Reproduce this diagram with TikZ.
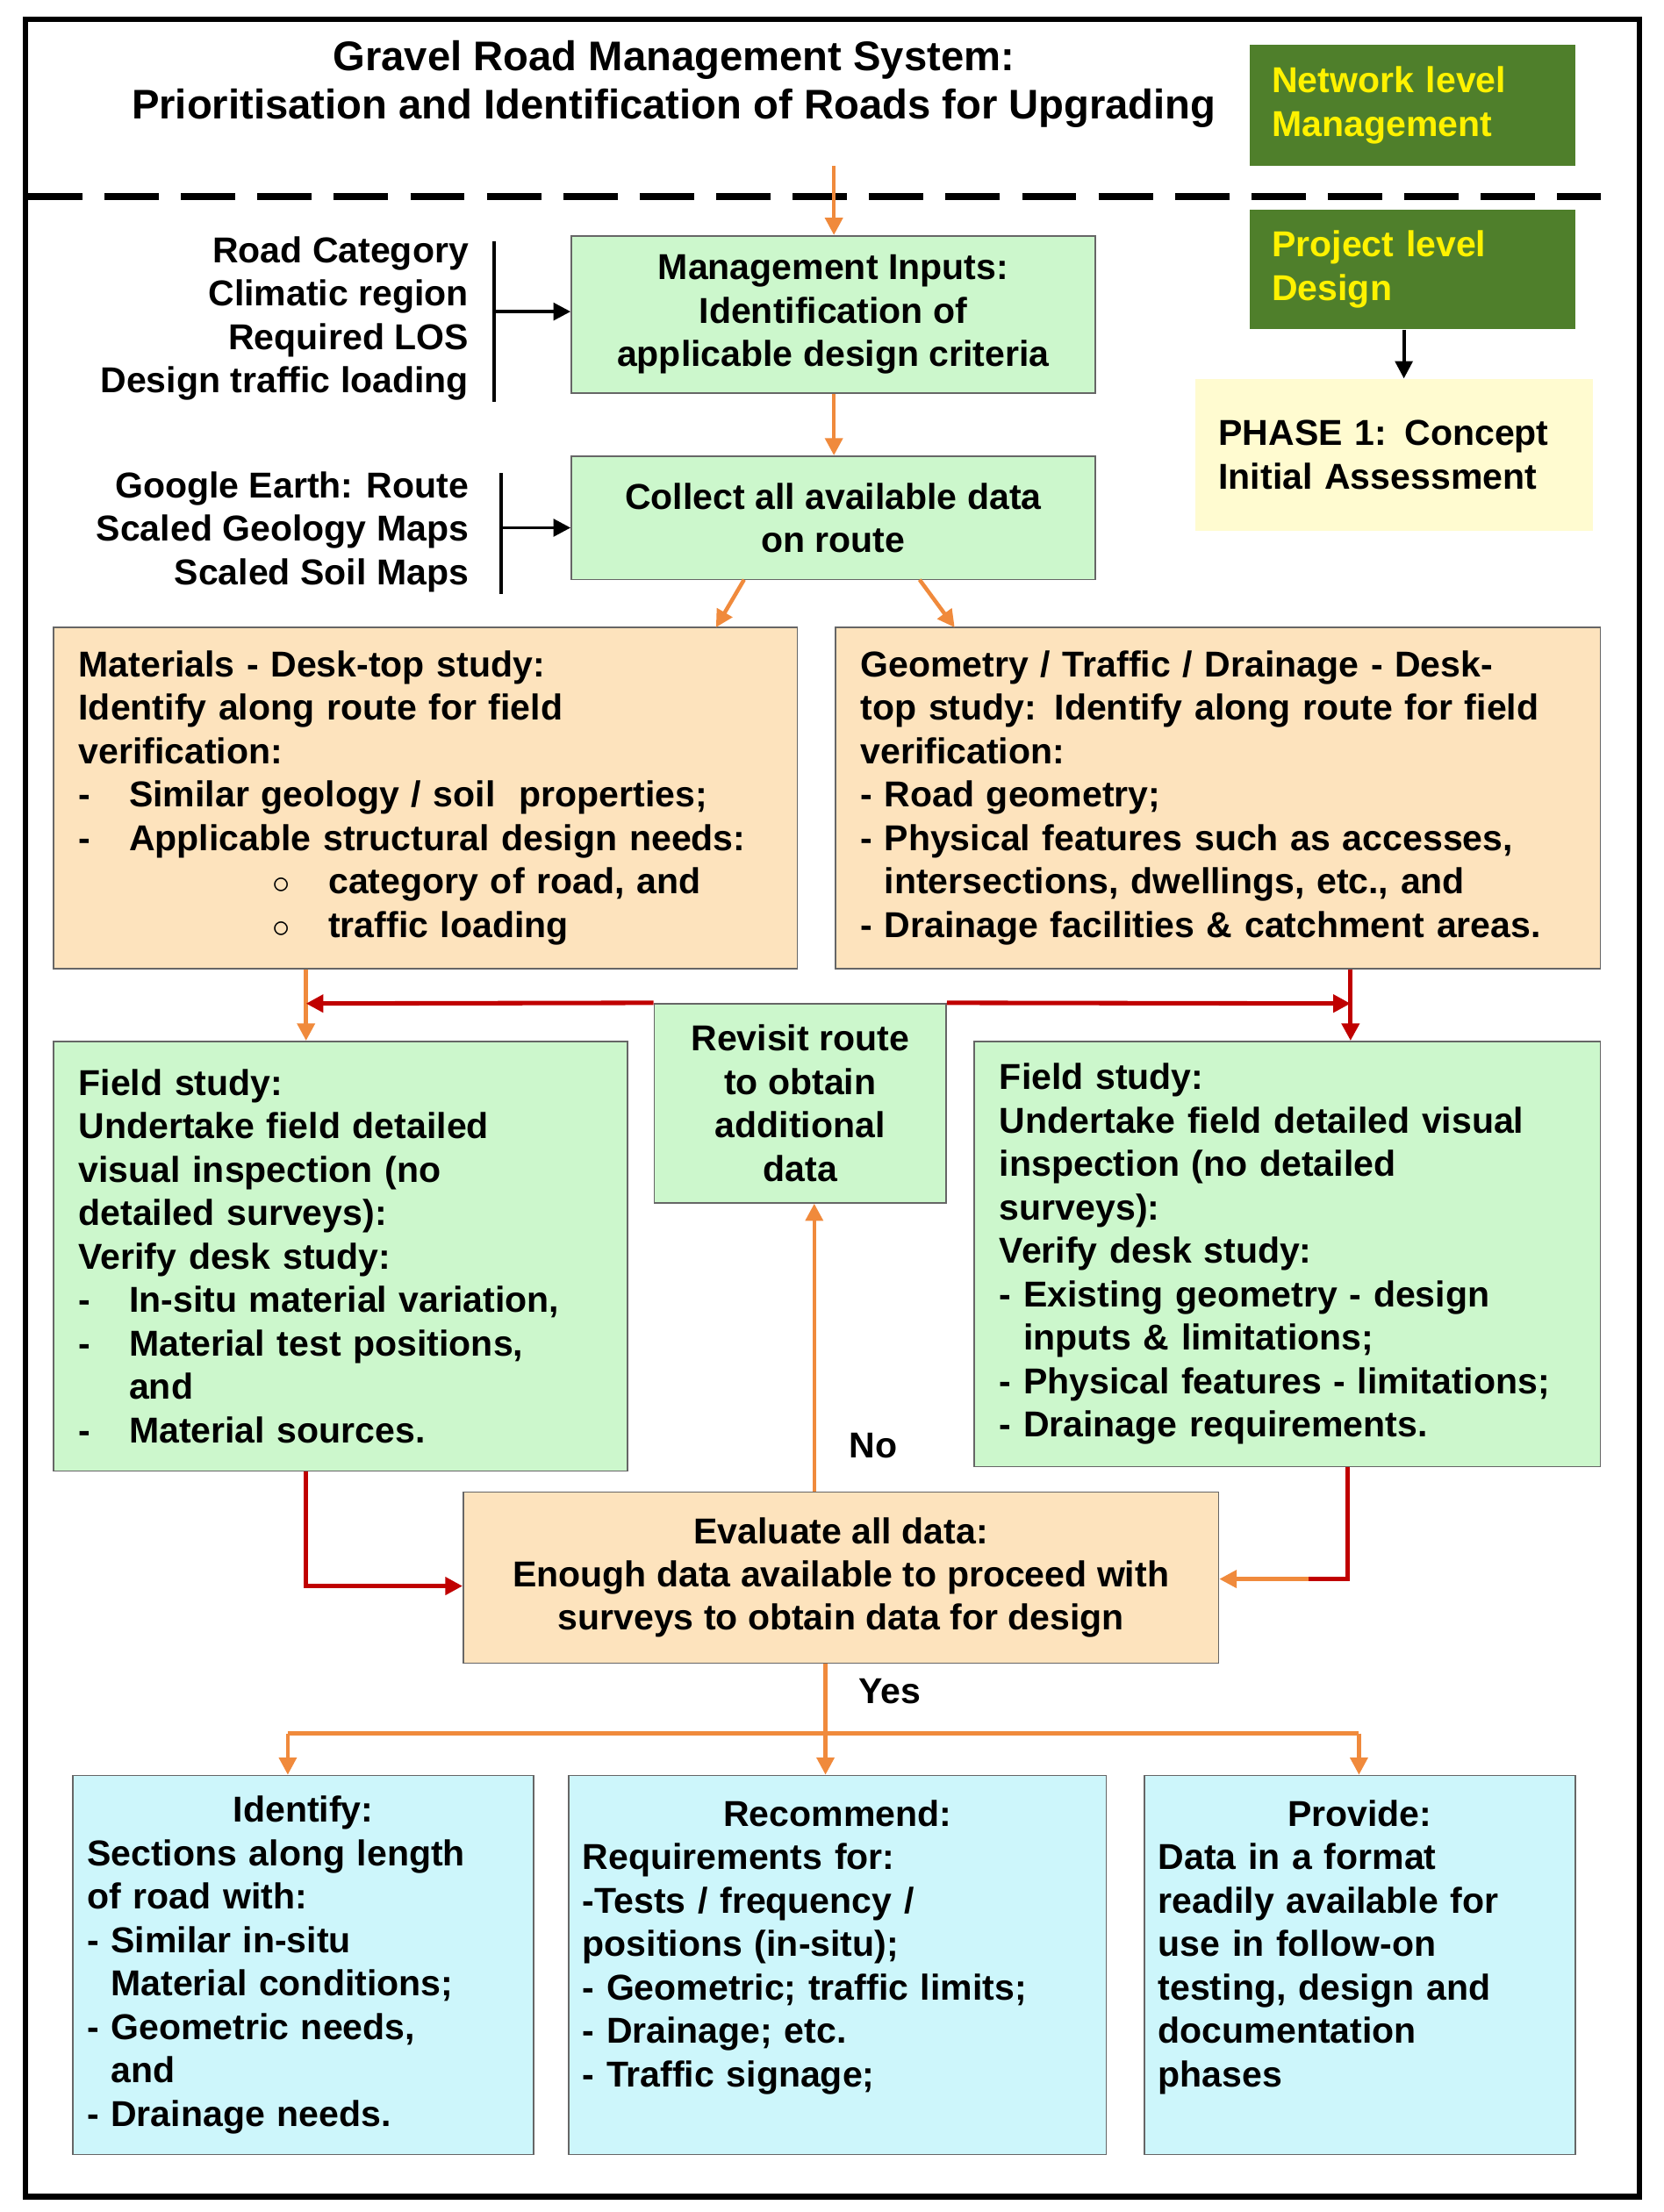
\documentclass[tikz,border=0pt]{standalone}
\usepackage{fontspec}
\setmainfont{Liberation Sans}
\usetikzlibrary{arrows.meta}
\definecolor{gbox}{HTML}{CCF7CC}
\definecolor{pbox}{HTML}{FDE3BD}
\definecolor{cbox}{HTML}{CDF6FB}
\definecolor{dgreen}{HTML}{4F7F2B}
\definecolor{lyel}{HTML}{FFFBD0}
\definecolor{orng}{HTML}{F08A3C}
\definecolor{dred}{HTML}{C00000}
\newcommand{\dd}{\makebox[0.72cm][l]{-}}
\newcommand{\ds}{\makebox[0.34cm][l]{-}}
\begin{document}
\begin{tikzpicture}[x=0.02cm,y=-0.02cm,
 every node/.style={font=\bfseries\fontsize{14.6}{17.6}\selectfont},
 bx/.style={draw=black!60,line width=0.6pt,inner xsep=18*0.02cm,inner ysep=0pt},
 oa/.style={draw=orng,line width=1.6pt,-{Triangle[length=7pt,width=7pt]}},
 ra/.style={draw=dred,line width=1.8pt,-{Triangle[length=7pt,width=7pt]}},
 ba/.style={draw=black,line width=1.4pt,-{Triangle[length=7pt,width=7pt]}}]
\useasboundingbox (0,0) rectangle (1185,1576);
\fill[white] (0,0) rectangle (1185,1576);
\draw[line width=2.2pt] (18,14) rectangle (1168,1565);
\node[align=center,font=\bfseries\fontsize{16.8}{19.6}\selectfont] (title) at (480,60) {Gravel Road Management System:\\Prioritisation and Identification of Roads for Upgrading};
\node[fill=dgreen,text=yellow,minimum width=232*0.02cm,minimum height=86*0.02cm,text width=200*0.02cm,align=left] (net) at (1006,75) {Network level\\Management};
\draw[line width=2.8pt,dash pattern=on 22pt off 9pt] (20,140) -- (1140,140);
\node[fill=dgreen,text=yellow,minimum width=232*0.02cm,minimum height=85*0.02cm,text width=200*0.02cm,align=left] (proj) at (1006,192) {Project level\\Design};
\node[fill=lyel,minimum width=283*0.02cm,minimum height=108*0.02cm,text width=250*0.02cm,align=left] (ph1) at (993,324) {PHASE 1: Concept\\Initial Assessment};
\draw[ba] (1000,235) -- (ph1.north -| 1000,0);
\coordinate (topin) at (594,118);
\node[bx,fill=gbox,minimum width=373*0.02cm,minimum height=112*0.02cm,align=center] (mi) at (593.5,224) {Management Inputs:\\Identification of\\applicable design criteria};
\draw[oa] (topin) -- (mi.north -| topin);
\node[align=right,anchor=east] (lt1) at (340,227) {Road Category\\Climatic region\\Required LOS\\Design traffic loading};
\coordinate (b1t) at (352,172); \coordinate (b1b) at (352,286);
\draw[line width=1.4pt] (b1t) -- (b1b);
\draw[ba] (352,222) -- (mi.west |- 0,222);
\node[bx,fill=gbox,minimum width=373*0.02cm,minimum height=88*0.02cm,align=center] (col) at (593.5,369) {Collect all available data\\on route};
\draw[oa] (mi.south -| 594,0) -- (col.north -| 594,0);
\node[align=right,anchor=east] (lt2) at (340,379) {Google Earth: Route\\Scaled Geology Maps\\Scaled Soil Maps};
\draw[line width=1.4pt] (357,337) -- (357,423);
\draw[ba] (357,376) -- (col.west |- 0,376);
\node[bx,fill=pbox,minimum width=530*0.02cm,minimum height=243*0.02cm,text width=494*0.02cm,align=left] (mat) at (303,568.5) {Materials - Desk-top study:\\Identify along route for field\\verification:\\\dd Similar geology / soil\ \ properties;\\\dd Applicable structural design needs:\\\hspace{2.76cm}\makebox[0.8cm][l]{$\circ$}category of road, and\\\hspace{2.76cm}\makebox[0.8cm][l]{$\circ$}traffic loading};
\node[bx,fill=pbox,minimum width=545*0.02cm,minimum height=243*0.02cm,text width=509*0.02cm,align=left] (geo) at (867.5,568.5) {Geometry / Traffic / Drainage - Desk-\\top study: Identify along route for field\\verification:\\\ds Road geometry;\\\ds Physical features such as accesses,\\\hspace{0.34cm}intersections, dwellings, etc., and\\\ds Drainage facilities \& catchment areas.};
\draw[oa] (530,413) -- (510,447);
\draw[oa] (655,413) -- (680,447);
\node[bx,fill=gbox,minimum width=208*0.02cm,minimum height=142*0.02cm,align=center] (rev) at (570,786) {Revisit route\\to obtain\\additional\\data};
\node[bx,fill=gbox,minimum width=409*0.02cm,minimum height=306*0.02cm,text width=373*0.02cm,align=left] (fl) at (242.5,895) {Field study:\\Undertake field detailed\\visual inspection (no\\detailed surveys):\\Verify desk study:\\\dd In-situ material variation,\\\dd Material test positions,\\\hspace{0.72cm}and\\\dd Material sources.};
\node[bx,fill=gbox,minimum width=446*0.02cm,minimum height=303*0.02cm,text width=410*0.02cm,align=left] (fr) at (917,893.5) {Field study:\\Undertake field detailed visual\\inspection (no detailed\\surveys):\\Verify desk study:\\\ds Existing geometry - design\\\hspace{0.34cm}inputs \& limitations;\\\ds Physical features - limitations;\\\ds Drainage requirements.};
\draw[oa] (mat.south -| 218,0) -- (fl.north -| 218,0);
\draw[ra] (geo.south -| 962,0) -- (fr.north -| 962,0);
\draw[ra] (rev.north west) -- (218,715);
\draw[ra] (rev.north east) -- (962,715);
\node[bx,fill=pbox,minimum width=538*0.02cm,minimum height=122*0.02cm,align=center] (ev) at (599,1124) {Evaluate all data:\\Enough data available to proceed with\\surveys to obtain data for design};
\draw[oa] (ev.north -| 580,0) -- (rev.south -| 580,0);
\node (no) at (622,1030) {No};
\draw[ra] (fl.south -| 218,0) -- (218,1130) -- (ev.west |- 0,1130);
\draw[dred,line width=1.8pt] (fr.south -| 960,0) -- (960,1125) -- (930,1125);
\draw[oa] (932,1125) -- (ev.east |- 0,1125);
\node (yes) at (634,1205) {Yes};
\node[bx,fill=cbox,minimum width=328*0.02cm,minimum height=270*0.02cm,text width=308*0.02cm,align=left,inner xsep=10*0.02cm] (c1) at (216,1400) {\centering Identify:\\\raggedright Sections along length\\of road with:\\\ds Similar in-situ\\\hspace{0.34cm}Material conditions;\\\ds Geometric needs,\\\hspace{0.34cm}and\\\ds Drainage needs.};
\node[bx,fill=cbox,minimum width=383*0.02cm,minimum height=270*0.02cm,text width=363*0.02cm,align=left,inner xsep=10*0.02cm] (c2) at (596.5,1400) {\centering Recommend:\\\raggedright Requirements for:\\-Tests / frequency /\\positions (in-situ);\\\ds Geometric; traffic limits;\\\ds Drainage; etc.\\\ds Traffic signage;\\\mbox{}};
\node[bx,fill=cbox,minimum width=307*0.02cm,minimum height=270*0.02cm,text width=287*0.02cm,align=left,inner xsep=10*0.02cm] (c3) at (968.5,1400) {\centering Provide:\\\raggedright Data in a format\\readily available for\\use in follow-on\\testing, design and\\documentation\\phases\\\mbox{}};
\coordinate (split) at (588,1235);
\draw[orng,line width=1.6pt] (ev.south -| 588,0) -- (split);
\draw[orng,line width=1.6pt] (205,1235) -- (968,1235);
\draw[oa] (205,1235) -- (c1.north -| 205,0);
\draw[oa] (split) -- (c2.north -| 588,0);
\draw[oa] (968,1235) -- (c3.north -| 968,0);
\end{tikzpicture}
\end{document}
